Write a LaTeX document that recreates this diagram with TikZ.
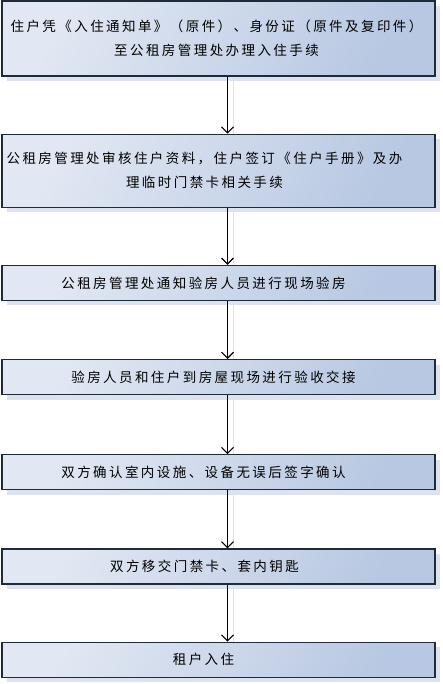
\documentclass[tikz,border=0pt]{standalone}
\usepackage{fontspec}
\newfontfamily\cjk[LetterSpace=18]{Noto Sans CJK SC}
\usepackage{xcolor}
\definecolor{boxline}{HTML}{1E2B3A}
\definecolor{boxlight}{HTML}{E2E8F3}
\definecolor{boxmid}{HTML}{C4D1E6}
\definecolor{boxblue}{HTML}{B8C8E2}
\definecolor{shadowgrey}{HTML}{DDE3EE}
\usepackage{tikz}
\usetikzlibrary{positioning}
\usetikzlibrary{arrows.meta, shadows}

\begin{document}
\begin{tikzpicture}[
    stepbox/.style={draw=boxline, line width=1.2pt, rectangle,
      top color=boxlight, middle color=boxmid, bottom color=boxblue, shading angle=60,
      minimum width=433pt, minimum height=35pt, inner sep=0pt,
      drop shadow={shadow xshift=5pt, shadow yshift=-5pt, fill=shadowgrey, opacity=1}},
    steptext/.style={font=\cjk\fontsize{13.5pt}{24pt}\selectfont, align=center, inner sep=0pt},
    flow/.style={-{Straight Barb[length=6pt, width=12pt]}, line width=1.1pt, black},
    flowshade/.style={line width=1.6pt, shadowgrey}
  ]
    \useasboundingbox (0pt,0pt) rectangle (442pt,-684pt);

    \node [stepbox, minimum height=75pt] (b1) at (218.5pt,-38.5pt) {};
    \node [stepbox, minimum height=73pt, below=57pt of b1] (b2) {};
    \node [stepbox, below=57pt of b2] (b3) {};
    \node [stepbox, below=58pt of b3] (b4) {};
    \node [stepbox, below=59pt of b4] (b5) {};
    \node [stepbox, below=58pt of b5] (b6) {};
    \node [stepbox, below=57pt of b6] (b7) {};

    \node [steptext, xshift=-2pt] (t1) at (b1) {住户凭《入住通知单》（原件）、身份证（原件及复印件）\\至公租房管理处办理入住手续};
    \node [steptext, xshift=-14pt] (t2) at (b2) {公租房管理处审核住户资料，住户签订《住户手册》及办\\理临时门禁卡相关手续};
    \node [steptext, xshift=-15pt] (t3) at (b3) {公租房管理处通知验房人员进行现场验房};
    \node [steptext, xshift=-5pt] (t4) at (b4) {验房人员和住户到房屋现场进行验收交接};
    \node [steptext, xshift=-15pt] (t5) at (b5) {双方确认室内设施、设备无误后签字确认};
    \node [steptext, xshift=-14pt] (t6) at (b6) {双方移交门禁卡、套内钥匙};
    \node [steptext, xshift=-15pt] (t7) at (b7) {租户入住};

    % shadow lines next to the arrows
    \path[flowshade] ([xshift=15pt]b1.south) edge ([xshift=15pt]b2.north)
    ([xshift=15pt]b2.south) edge ([xshift=15pt]b3.north)
    ([xshift=15pt]b3.south) edge ([xshift=15pt]b4.north)
    ([xshift=15pt]b4.south) edge ([xshift=15pt]b5.north)
    ([xshift=15pt]b5.south) edge ([xshift=15pt]b6.north)
    ([xshift=15pt]b6.south) edge ([xshift=15pt]b7.north);

    \path[flow] ([xshift=9pt]b1.south) edge ([xshift=9pt]b2.north)
    ([xshift=9pt]b2.south) edge ([xshift=9pt]b3.north)
    ([xshift=9pt]b3.south) edge ([xshift=9pt]b4.north)
    ([xshift=9pt]b4.south) edge ([xshift=9pt]b5.north)
    ([xshift=9pt]b5.south) edge ([xshift=9pt]b6.north)
    ([xshift=9pt]b6.south) edge ([xshift=9pt]b7.north);

  \end{tikzpicture}
\end{document}
